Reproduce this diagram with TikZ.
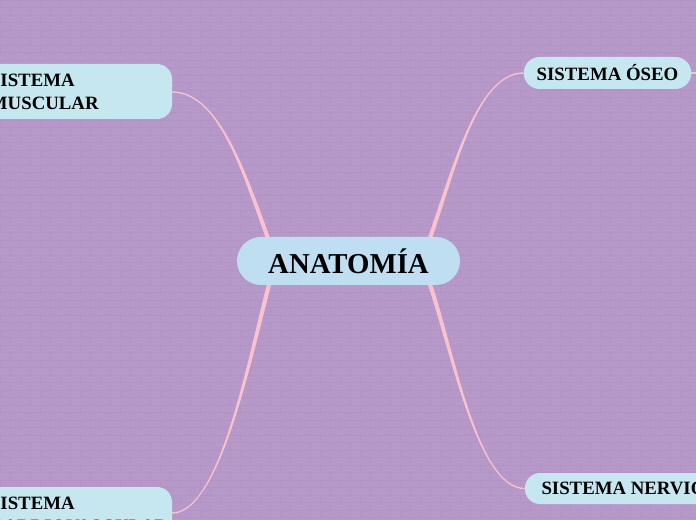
\documentclass[tikz,border=0pt]{standalone}
\usepackage{fontspec}
\setmainfont{Liberation Serif}
\usetikzlibrary{calc}
\definecolor{bgc}{RGB}{182,153,201}
\definecolor{brickc}{RGB}{177,147,196}
\definecolor{nodec}{RGB}{198,230,240}
\definecolor{mainc}{RGB}{192,222,241}
\definecolor{linkc}{RGB}{250,194,206}
\pgfdeclarelayer{bg}
\pgfdeclarelayer{links}
\pgfsetlayers{bg,links,main}
\tikzset{
  child/.style={fill=nodec, rounded corners=15bp, inner xsep=13bp, inner ysep=0bp,
    font=\fontsize{18.8bp}{23bp}\selectfont\bfseries, text=black},
  mainnode/.style={fill=mainc, rounded corners=24bp, minimum width=223bp, minimum height=48bp,
    font=\fontsize{28.8bp}{32bp}\selectfont\bfseries, text=black, inner sep=0bp},
  link/.style={fill=linkc},
}
\begin{document}
\begin{tikzpicture}[x=1bp,y=-1bp]
\useasboundingbox (0,0) rectangle (696,520);
\clip (0,0) rectangle (696,520);
\begin{pgfonlayer}{bg}
\fill[bgc] (0,0) rectangle (696,520);
% brick texture
\foreach \r in {0,...,70}{
  \draw[brickc, line width=0.5bp] (0,{\r*7.5}) -- (696,{\r*7.5});
  \pgfmathsetmacro{\off}{mod(\r,2)*10}
  \foreach \c in {0,...,35}{
    \draw[brickc, line width=0.5bp] ({\c*20+\off},{\r*7.5}) -- ({\c*20+\off},{\r*7.5+7.5});
  }
}
\end{pgfonlayer}
% nodes
\node[mainnode] (ana) at (348.5,261) {ANATOMÍA};
\node[child, minimum height=32bp, minimum width=165bp, rounded corners=16bp] (oseo) at (607.5,73) {SISTEMA ÓSEO};
\node[child, minimum height=31bp, minimum width=222bp] (nerv) at (636,488.5) {SISTEMA NERVIOSO};
\node[child, minimum height=55bp, text width=169bp, align=left] (musc) at (74.5,91.5) {SISTEMA\\MUSCULAR};
\node[child, minimum height=55bp, text width=169bp, align=left] (card) at (74.5,514.5) {SISTEMA\\CARDIOVASCULAR};
% anchor points under the central node
\coordinate (a-nw) at ($(ana.center)+(-76,-11)$);
\coordinate (a-ne) at ($(ana.center)+(77,-11)$);
\coordinate (a-sw) at ($(ana.center)+(-76,11)$);
\coordinate (a-se) at ($(ana.center)+(77,11)$);
\coordinate (m-e) at ($(musc.east)+(0,0.5)$);
\coordinate (c-e) at ($(card.east)+(0,-1.5)$);
% tapered links (beneath nodes)
\begin{pgfonlayer}{links}
\fill[link] ($(m-e)+(0,-0.7)$) .. controls +(50,0) and +(-25,-65) .. ($(a-nw)+(2.2,0)$)
  -- ($(a-nw)+(-2.2,0)$) .. controls +(-25,-65) and +(50,0) .. ($(m-e)+(0,0.7)$) -- cycle;
\fill[link] ($(oseo.west)+(0,-0.7)$) .. controls +(-50,0) and +(25,-65) .. ($(a-ne)+(-2.2,0)$)
  -- ($(a-ne)+(2.2,0)$) .. controls +(25,-65) and +(-50,0) .. ($(oseo.west)+(0,0.7)$) -- cycle;
\fill[link] ($(c-e)+(0,-0.7)$) .. controls +(50,0) and +(-20,70) .. ($(a-sw)+(-2.2,0)$)
  -- ($(a-sw)+(2.2,0)$) .. controls +(-20,70) and +(50,0) .. ($(c-e)+(0,0.7)$) -- cycle;
\fill[link] ($(nerv.west)+(0,-0.7)$) .. controls +(-50,0) and +(25,65) .. ($(a-se)+(2.2,0)$)
  -- ($(a-se)+(-2.2,0)$) .. controls +(25,65) and +(-50,0) .. ($(nerv.west)+(0,0.7)$) -- cycle;
\draw[linkc, line width=1.2bp] (oseo.east) -- ++(12,0);
\end{pgfonlayer}
\end{tikzpicture}
\end{document}
